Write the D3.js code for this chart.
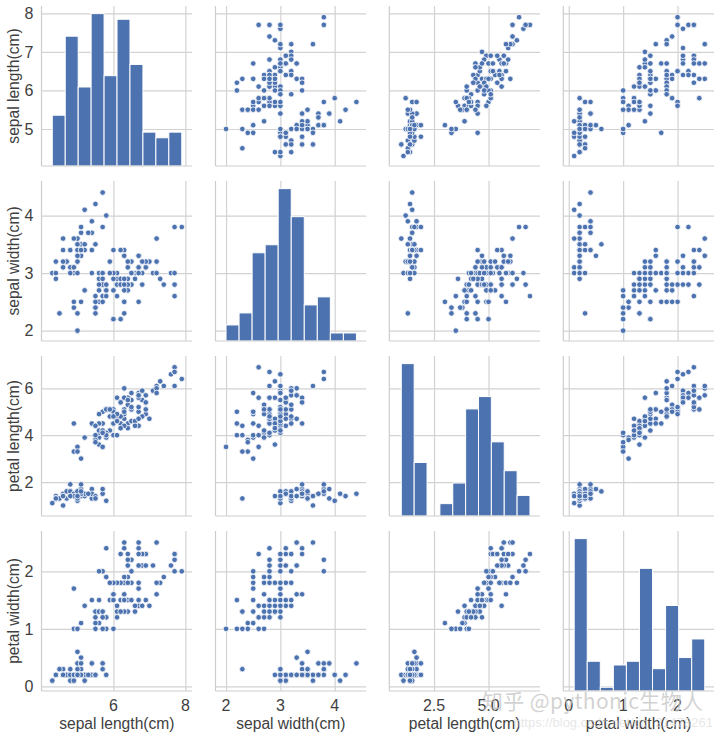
<!DOCTYPE html>
<html>
<head>
<meta charset="utf-8">
<script src="https://cdn.jsdelivr.net/npm/d3@7"></script>
<style>
    html, body { margin: 0; padding: 0; background: #fff; }
    svg { display: block; }
    text { font-family: "Liberation Sans", Arial, sans-serif; fill: #404040; }
    .grid line { stroke: #d2d2d2; stroke-width: 1.2; }
    .spine { stroke: #cdcdcd; stroke-width: 1.2; }
</style>
</head>
<body>
<svg id="chart" width="720" height="737"></svg>
<script>
// Measurements, cm
var sepalLength = [
    5.1,4.9,4.7,4.6,5.0,5.4,4.6,5.0,4.4,4.9,5.4,4.8,4.8,4.3,5.8,5.7,5.4,5.1,5.7,5.1,5.4,5.1,4.6,5.1,4.8,5.0,5.0,5.2,5.2,4.7,4.8,5.4,5.2,5.5,4.9,5.0,5.5,4.9,4.4,5.1,5.0,4.5,4.4,5.0,5.1,4.8,5.1,4.6,5.3,5.0,
    7.0,6.4,6.9,5.5,6.5,5.7,6.3,4.9,6.6,5.2,5.0,5.9,6.0,6.1,5.6,6.7,5.6,5.8,6.2,5.6,5.9,6.1,6.3,6.1,6.4,6.6,6.8,6.7,6.0,5.7,5.5,5.5,5.8,6.0,5.4,6.0,6.7,6.3,5.6,5.5,5.5,6.1,5.8,5.0,5.6,5.7,5.7,6.2,5.1,5.7,
    6.3,5.8,7.1,6.3,6.5,7.6,4.9,7.3,6.7,7.2,6.5,6.4,6.8,5.7,5.8,6.4,6.5,7.7,7.7,6.0,6.9,5.6,7.7,6.3,6.7,7.2,6.2,6.1,6.4,7.2,7.4,7.9,6.4,6.3,6.1,7.7,6.3,6.4,6.0,6.9,6.7,6.9,5.8,6.8,6.7,6.7,6.3,6.5,6.2,5.9
];
var sepalWidth = [
    3.5,3.0,3.2,3.1,3.6,3.9,3.4,3.4,2.9,3.1,3.7,3.4,3.0,3.0,4.0,4.4,3.9,3.5,3.8,3.8,3.4,3.7,3.6,3.3,3.4,3.0,3.4,3.5,3.4,3.2,3.1,3.4,4.1,4.2,3.1,3.2,3.5,3.6,3.0,3.4,3.5,2.3,3.2,3.5,3.8,3.0,3.8,3.2,3.7,3.3,
    3.2,3.2,3.1,2.3,2.8,2.8,3.3,2.4,2.9,2.7,2.0,3.0,2.2,2.9,2.9,3.1,3.0,2.7,2.2,2.5,3.2,2.8,2.5,2.8,2.9,3.0,2.8,3.0,2.9,2.6,2.4,2.4,2.7,2.7,3.0,3.4,3.1,2.3,3.0,2.5,2.6,3.0,2.6,2.3,2.7,3.0,2.9,2.9,2.5,2.8,
    3.3,2.7,3.0,2.9,3.0,3.0,2.5,2.9,2.5,3.6,3.2,2.7,3.0,2.5,2.8,3.2,3.0,3.8,2.6,2.2,3.2,2.8,2.8,2.7,3.3,3.2,2.8,3.0,2.8,3.0,2.8,3.8,2.8,2.8,2.6,3.0,3.4,3.1,3.0,3.1,3.1,3.1,2.7,3.2,3.3,3.0,2.5,3.0,3.4,3.0
];
var petalLength = [
    1.4,1.4,1.3,1.5,1.4,1.7,1.4,1.5,1.4,1.5,1.5,1.6,1.4,1.1,1.2,1.5,1.3,1.4,1.7,1.5,1.7,1.5,1.0,1.7,1.9,1.6,1.6,1.5,1.4,1.6,1.6,1.5,1.5,1.4,1.5,1.2,1.3,1.4,1.3,1.5,1.3,1.3,1.3,1.6,1.9,1.4,1.6,1.4,1.5,1.4,
    4.7,4.5,4.9,4.0,4.6,4.5,4.7,3.3,4.6,3.9,3.5,4.2,4.0,4.7,3.6,4.4,4.5,4.1,4.5,3.9,4.8,4.0,4.9,4.7,4.3,4.4,4.8,5.0,4.5,3.5,3.8,3.7,3.9,5.1,4.5,4.5,4.7,4.4,4.1,4.0,4.4,4.6,4.0,3.3,4.2,4.2,4.2,4.3,3.0,4.1,
    6.0,5.1,5.9,5.6,5.8,6.6,4.5,6.3,5.8,6.1,5.1,5.3,5.5,5.0,5.1,5.3,5.5,6.7,6.9,5.0,5.7,4.9,6.7,4.9,5.7,6.0,4.8,4.9,5.6,5.8,6.1,6.4,5.6,5.1,5.6,6.1,5.6,5.5,4.8,5.4,5.6,5.1,5.1,5.9,5.7,5.2,5.0,5.2,5.4,5.1
];
var petalWidth = [
    0.2,0.2,0.2,0.2,0.2,0.4,0.3,0.2,0.2,0.1,0.2,0.2,0.1,0.1,0.2,0.4,0.4,0.3,0.3,0.3,0.2,0.4,0.2,0.5,0.2,0.2,0.4,0.2,0.2,0.2,0.2,0.4,0.1,0.2,0.2,0.2,0.2,0.1,0.2,0.2,0.3,0.3,0.2,0.6,0.4,0.3,0.2,0.2,0.2,0.2,
    1.4,1.5,1.5,1.3,1.5,1.3,1.6,1.0,1.3,1.4,1.0,1.5,1.0,1.4,1.3,1.4,1.5,1.0,1.5,1.1,1.8,1.3,1.5,1.2,1.3,1.4,1.4,1.7,1.5,1.0,1.1,1.0,1.2,1.6,1.5,1.6,1.5,1.3,1.3,1.3,1.2,1.4,1.2,1.0,1.3,1.2,1.3,1.3,1.1,1.3,
    2.5,1.9,2.1,1.8,2.2,2.1,1.7,1.8,1.8,2.5,2.0,1.9,2.1,2.0,2.4,2.3,1.8,2.2,2.3,1.5,2.3,2.0,2.0,1.8,2.1,1.8,1.8,1.8,2.1,1.6,1.9,2.0,2.2,1.5,1.4,2.3,2.4,1.8,1.8,2.1,2.4,2.3,1.9,2.3,2.5,2.3,1.9,2.0,2.3,1.8
];

// Histogram counts on the diagonal, ten equal bins each
var sepalLengthCounts = [9, 23, 14, 27, 16, 26, 18, 6, 5, 6];
var sepalWidthCounts = [4, 7, 22, 24, 38, 31, 9, 11, 2, 2];
var petalLengthCounts = [37, 13, 0, 3, 8, 26, 29, 18, 11, 5];
var petalWidthCounts = [41, 8, 1, 7, 8, 33, 6, 23, 9, 14];

var VAR_LABELS = ["sepal length(cm)", "sepal width(cm)", "petal length(cm)", "petal width(cm)"];
var VAR_VALUES = [sepalLength, sepalWidth, petalLength, petalWidth];
var VAR_COUNTS = [sepalLengthCounts, sepalWidthCounts, petalLengthCounts, petalWidthCounts];

// Axis limits and ticks
var X_DOMAINS = [[4.0, 8.19], [1.806, 4.58], [0.45, 7.36], [-0.1, 2.67]];
var Y_DOMAINS = [[4.04, 8.19], [1.82, 4.6], [0.55, 7.38], [-0.08, 2.7]];
var X_TICKS = [[6, 8], [2, 3, 4], [2.5, 5], [0, 1, 2]];
var Y_TICKS = [[5, 6, 7, 8], [2, 3, 4], [2, 4, 6], [0, 1, 2]];
var X_TICK_FORMATS = ["d", "d", ".1f", "d"];

// Layout
var COL_LEFT = [41.5, 215.5, 389.3, 563.3];
var ROW_TOP = [6, 181, 356, 531];
var PANEL_WIDTH = 150.7;
var PANEL_HEIGHT = 160;
var MARK_COLOR = "#4c72b0";
var POINT_RADIUS = 2.8;
var TICK_FONT_SIZE = 16;
var LABEL_FONT_SIZE = 15.6;

var svg = d3.select("#chart");

var xScales = X_DOMAINS.map((d, i) => d3.scaleLinear().domain(d).range([COL_LEFT[i], COL_LEFT[i] + PANEL_WIDTH]));
var yScales = Y_DOMAINS.map((d, i) => d3.scaleLinear().domain(d).range([ROW_TOP[i] + PANEL_HEIGHT, ROW_TOP[i]]));

function drawGrid(r, c) {
    var xGrid = d3.axisBottom(xScales[c])
        .tickValues(X_TICKS[c])
        .tickSize(-PANEL_HEIGHT)
        .tickFormat("");
    var yGrid = d3.axisLeft(yScales[r])
        .tickValues(Y_TICKS[r])
        .tickSize(-PANEL_WIDTH)
        .tickFormat("");

    svg.append("g")
        .attr("class", "grid")
        .attr("transform", "translate(0," + (ROW_TOP[r] + PANEL_HEIGHT) + ")")
        .call(xGrid)
        .call(g => g.select(".domain").remove());
    svg.append("g")
        .attr("class", "grid")
        .attr("transform", "translate(" + COL_LEFT[c] + ",0)")
        .call(yGrid)
        .call(g => g.select(".domain").remove());
}

function drawHist(i) {
    var counts = VAR_COUNTS[i];
    var extent = d3.extent(VAR_VALUES[i]);
    var binWidth = (extent[1] - extent[0]) / counts.length;
    var xScale = xScales[i];
    var countScale = d3.scaleLinear()
        .domain([0, d3.max(counts) * 1.05])
        .range([ROW_TOP[i] + PANEL_HEIGHT, ROW_TOP[i]]);

    svg.append("g").selectAll("rect")
        .data(counts)
        .enter()
        .append("rect")
        .attr("x", (d, b) => xScale(extent[0] + b * binWidth))
        .attr("y", d => countScale(d))
        .attr("width", (d, b) => xScale(extent[0] + (b + 1) * binWidth) - xScale(extent[0] + b * binWidth))
        .attr("height", d => countScale(0) - countScale(d))
        .attr("fill", MARK_COLOR)
        .attr("stroke", "#fff")
        .attr("stroke-width", 1);
}

function drawScatter(r, c) {
    svg.append("g").selectAll("circle")
        .data(VAR_VALUES[c])
        .enter()
        .append("circle")
        .attr("cx", d => xScales[c](d))
        .attr("cy", (d, i) => yScales[r](VAR_VALUES[r][i]))
        .attr("r", POINT_RADIUS)
        .attr("fill", MARK_COLOR)
        .attr("stroke", "#fff")
        .attr("stroke-width", 0.8);
}

function drawSpines(r, c) {
    var bottom = ROW_TOP[r] + PANEL_HEIGHT;
    svg.append("line")
        .attr("class", "spine")
        .attr("x1", COL_LEFT[c]).attr("x2", COL_LEFT[c])
        .attr("y1", ROW_TOP[r]).attr("y2", bottom);
    svg.append("line")
        .attr("class", "spine")
        .attr("x1", COL_LEFT[c]).attr("x2", COL_LEFT[c] + PANEL_WIDTH)
        .attr("y1", bottom).attr("y2", bottom);
}

// Panels
for (var r = 0; r < VAR_LABELS.length; r++) {
    for (var c = 0; c < VAR_LABELS.length; c++) {
        drawGrid(r, c);
        if (r == c) {
            drawHist(r);
        } else {
            drawScatter(r, c);
        }
        drawSpines(r, c);
    }
}

// Tick labels and axis titles, outer panels only
for (var i = 0; i < VAR_LABELS.length; i++) {
    svg.append("g").selectAll("text")
        .data(Y_TICKS[i])
        .enter()
        .append("text")
        .attr("x", COL_LEFT[0] - 8)
        .attr("y", d => yScales[i](d))
        .attr("dy", "0.36em")
        .attr("text-anchor", "end")
        .style("font-size", TICK_FONT_SIZE + "px")
        .text(d => d);

    svg.append("g").selectAll("text")
        .data(X_TICKS[i])
        .enter()
        .append("text")
        .attr("x", d => xScales[i](d))
        .attr("y", ROW_TOP[3] + PANEL_HEIGHT + 14)
        .attr("dy", "0.36em")
        .attr("text-anchor", "middle")
        .style("font-size", TICK_FONT_SIZE + "px")
        .text(d3.format(X_TICK_FORMATS[i]));

    svg.append("text")
        .attr("x", COL_LEFT[i] + PANEL_WIDTH / 2)
        .attr("y", ROW_TOP[3] + PANEL_HEIGHT + 32)
        .attr("dy", "0.36em")
        .attr("text-anchor", "middle")
        .style("font-size", LABEL_FONT_SIZE + "px")
        .text(VAR_LABELS[i]);

    svg.append("text")
        .attr("transform", "translate(13," + (ROW_TOP[i] + PANEL_HEIGHT / 2) + ") rotate(-90)")
        .attr("dy", "0.36em")
        .attr("text-anchor", "middle")
        .style("font-size", LABEL_FONT_SIZE + "px")
        .text(VAR_LABELS[i]);
}

// Watermarks over the bottom right corner
svg.append("text")
    .attr("x", 482)
    .attr("y", 709)
    .attr("textLength", 221)
    .attr("lengthAdjust", "spacing")
    .style("font-family", "'Noto Sans CJK SC'")
    .style("font-size", "21px")
    .style("fill", "#c4c4c4")
    .style("fill-opacity", 0.75)
    .text("知乎 @pythonic生物人");
svg.append("text")
    .attr("x", 713)
    .attr("y", 727)
    .attr("text-anchor", "end")
    .style("font-size", "13px")
    .style("fill", "#dcdcdc")
    .style("fill-opacity", 0.7)
    .text("https://blog.csdn.net/qq_21478261");
</script>
</body>
</html>
